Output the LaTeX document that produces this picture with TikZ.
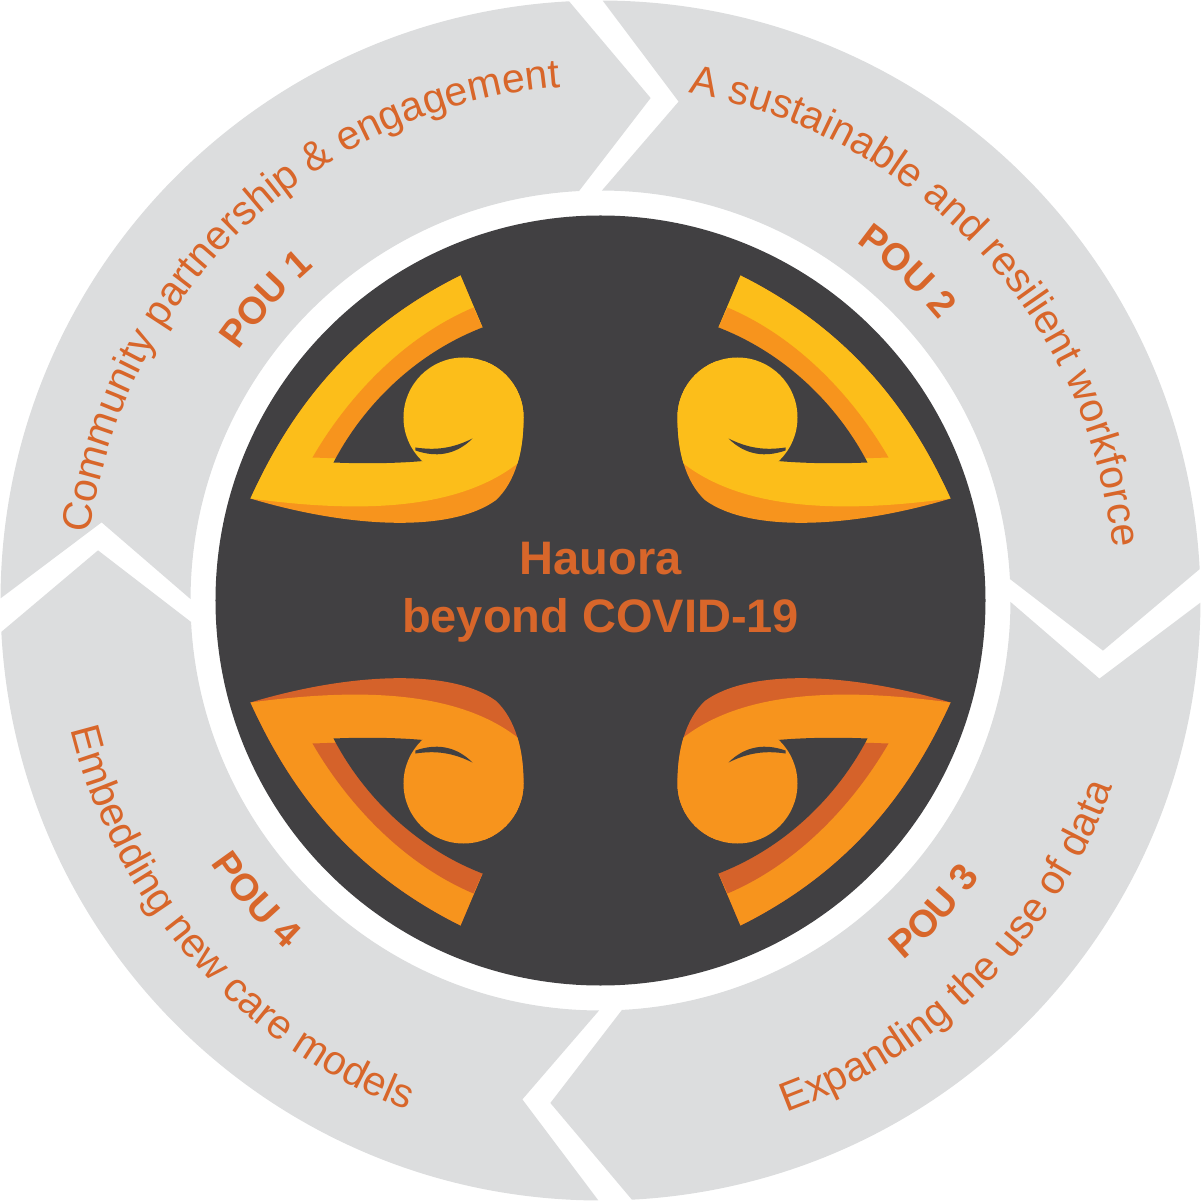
\documentclass[tikz,border=0pt]{standalone}
\usepackage{fontspec}
\setmainfont{Liberation Sans}
\usetikzlibrary{decorations.text}
\definecolor{ringgray}{HTML}{DCDDDE}
\definecolor{darkc}{HTML}{414042}
\definecolor{txt}{HTML}{D8662A}
\definecolor{kyel}{HTML}{FCBE1A}
\definecolor{kor}{HTML}{F7941D}
\definecolor{kdk}{HTML}{D5622A}
\newcommand\korushape[2]{%
 \fill[#2] (-140,325) .. controls (-250,270) and (-310,190) .. (-350,102)
   .. controls (-250,72) and (-150,68) .. (-105,100) .. controls (-85,118) and (-77,150) .. (-77,183)
   arc[start angle=0,end angle=90,radius=60] -- (-118,273) -- cycle;
 \fill[#1] (-140,325) .. controls (-250,270) and (-310,190) .. (-350,102)
   .. controls (-260,90) and (-150,85) .. (-83,137) .. controls (-79,150) and (-77,165) .. (-77,183)
   arc[start angle=0,end angle=90,radius=60] -- (-118,273) -- cycle;
 \fill[#2] (-127,293) .. controls (-200,262) and (-255,200) .. (-288,143) -- (-200,140) -- (-137,243) -- (-118,273) -- cycle;
 \fill[darkc] (-118,273) .. controls (-190,245) and (-240,190) .. (-267,138)
   .. controls (-220,136) and (-170,138) .. (-140,145) -- (-137,235) -- (-95,245) -- (-108,270) -- cycle;
 \fill[#1] (-137,183) circle[radius=60];
 \fill[darkc] (-185,150) .. controls (-165,143) and (-145,145) .. (-128,162)
   .. controls (-148,152) and (-165,150) .. (-185,153) -- cycle;
}
\newcommand\segm[2]{%
 \fill[ringgray] ({#1-1.6}:600) arc[start angle={#1-1.6},end angle={#2+1.6},radius=600]
  -- ({#2+1.6-8.7}:505) -- ({#2+1.6}:410) arc[start angle={#2+1.6},end angle={#1-1.6},radius=410]
  -- ({#1-1.6-8.7}:505) -- cycle;}
\tikzset{ringtxt/.style={decorate,decoration={text along path,text align=center,text color=txt}}}
\begin{document}
\begin{tikzpicture}[x=1pt,y=1pt]
\useasboundingbox (-600.5,-600.5) rectangle (600.5,600.5);
\segm{181.4}{91.4}
\segm{91.4}{1.4}
\segm{1.4}{-88.6}
\segm{-88.6}{-178.6}
\fill[darkc] (0,0) circle[radius=385];
\begin{scope}\korushape{kyel}{kor}\end{scope}
\begin{scope}[xscale=-1]\korushape{kyel}{kor}\end{scope}
\begin{scope}[yscale=-1]\korushape{kor}{kdk}\end{scope}
\begin{scope}[xscale=-1,yscale=-1]\korushape{kor}{kdk}\end{scope}
\node[text=txt,font=\bfseries\fontsize{47}{58}\selectfont,align=center] (c) at (0,8) {Hauora\\beyond COVID-19};
% ring texts
\path[ringtxt,decoration={text={|\fontsize{41}{44}\selectfont|Community partnership {\&} engagement}}]
  (183:515) arc[start angle=183,end angle=84,radius=515];
\path[ringtxt,decoration={text={|\fontsize{41}{44}\selectfont|A sustainable and resilient workforce}}]
  (90:515) arc[start angle=90,end angle=-4,radius=515];
\path[ringtxt,decoration={text={|\fontsize{41}{44}\selectfont|Expanding the use of data}}]
  (-92:545) arc[start angle=-92,end angle=2,radius=545];
\path[ringtxt,decoration={text={|\fontsize{41}{44}\selectfont|Embedding new care models}}]
  (175:545) arc[start angle=175,end angle=268,radius=545];
\path[ringtxt,decoration={text={|\bfseries\fontsize{38}{40}\selectfont|POU 1}}]
  (163:440) arc[start angle=163,end angle=113,radius=440];
\path[ringtxt,decoration={text={|\bfseries\fontsize{38}{40}\selectfont|POU 2}}]
  (72:440) arc[start angle=72,end angle=22,radius=440];
\path[ringtxt,decoration={text={|\bfseries\fontsize{38}{40}\selectfont|POU 3}}]
  (-68:470) arc[start angle=-68,end angle=-18,radius=470];
\path[ringtxt,decoration={text={|\bfseries\fontsize{38}{40}\selectfont|POU 4}}]
  (196:470) arc[start angle=196,end angle=246,radius=470];
\end{tikzpicture}
\end{document}
